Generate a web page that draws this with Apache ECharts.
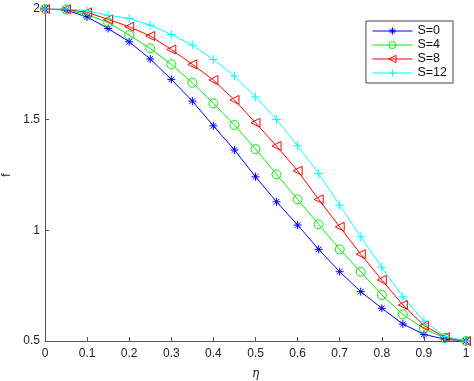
<!DOCTYPE html>
<html>
<head>
<meta charset="utf-8">
<script src="https://cdn.jsdelivr.net/npm/echarts@6/dist/echarts.min.js"></script>
<style>html,body{margin:0;padding:0;background:#fff}#c{width:474px;height:381px}</style>
</head>
<body>
<div id="c"></div>
<script>
const eta = [0,0.05,0.1,0.15,0.2,0.25,0.3,0.35,0.4,0.45,0.5,0.55,0.6,0.65,0.7,0.75,0.8,0.85,0.9,0.95,1];
const s0  = [2.0,1.995,1.964,1.912,1.852,1.774,1.682,1.584,1.472,1.363,1.242,1.129,1.024,0.914,0.813,0.723,0.648,0.577,0.530,0.508,0.5];
const s4  = [2.0,1.998,1.975,1.939,1.882,1.822,1.750,1.667,1.574,1.476,1.367,1.253,1.140,1.027,0.914,0.813,0.708,0.620,0.555,0.514,0.5];
const s8  = [2.0,1.999,1.985,1.953,1.920,1.878,1.817,1.750,1.679,1.589,1.486,1.381,1.269,1.140,1.016,0.892,0.776,0.663,0.570,0.517,0.5];
const s12 = [2.0,2.0,1.992,1.972,1.957,1.927,1.885,1.837,1.772,1.697,1.603,1.501,1.382,1.257,1.114,0.971,0.833,0.700,0.590,0.520,0.5];
const names = ['S=0','S=4','S=8','S=12'];
const xTicks = [0,0.1,0.2,0.3,0.4,0.5,0.6,0.7,0.8,0.9,1];
const yTicks = [0.5,1,1.5,2];

const pair = arr => eta.map((x,i)=>[x,arr[i]]);
const star = 'path://M0,5L10,5M5,0L5,10M1.5,1.5L8.5,8.5M1.5,8.5L8.5,1.5';
const plus = 'path://M0,5L10,5M5,0L5,10';
const tri  = 'path://M0,5L10,0L10,10Z';
function ser(name, data, color, symbol, size){
  return {
    name, type:'line', data: pair(data), symbol, symbolSize:size,
    lineStyle:{color, width:1}, itemStyle:{color:'transparent', borderColor:color, borderWidth:1},
    emphasis:{disabled:true}, animation:false
  };
}
const chart = echarts.init(document.getElementById('c'));
const font = 'Liberation Sans, Arial, sans-serif';
chart.setOption({
  animation:false,
  grid:{left:45,right:8,top:9,bottom:40, containLabel:false, outerBoundsMode:'none'},
  legend:{
    right:21, top:21, orient:'vertical', itemGap:0, itemWidth:40, itemHeight:9,
    borderColor:'#444', borderWidth:1, padding:[3,6,3,6], backgroundColor:'#fff',
    itemStyle:{color:'transparent', borderWidth:1},
    lineStyle:{width:1},
    textStyle:{fontFamily:font, fontSize:12.5, lineHeight:14, color:'#111', padding:[0,0,0,0]},
    data:names
  },
  xAxis:{
    type:'value', min:0, max:1, interval:0.1,
    name:'η', nameLocation:'middle', nameGap:27,
    nameTextStyle:{fontFamily:'DejaVu Serif, serif', fontStyle:'italic', fontSize:12, color:'#222'},
    axisLine:{lineStyle:{color:'#555', width:1}},
    axisTick:{inside:true, length:4, lineStyle:{color:'#555'}},
    axisLabel:{fontFamily:font, fontSize:12, color:'#222', margin:7,
      formatter:v=>xTicks.includes(Math.round(v*10)/10)?String(Math.round(v*10)/10):''},
    splitLine:{show:false}
  },
  yAxis:{
    type:'value', min:0.5, max:2, interval:0.5,
    name:'f', nameLocation:'middle', nameGap:30, nameRotate:90,
    nameTextStyle:{fontFamily:font, fontSize:12, color:'#222'},
    axisLine:{show:true, lineStyle:{color:'#555', width:1}},
    axisTick:{show:true, inside:true, length:4, lineStyle:{color:'#555'}},
    axisLabel:{fontFamily:font, fontSize:12, color:'#222', margin:5,
      formatter:v=>yTicks.includes(v)?String(v):''},
    splitLine:{show:false}
  },
  series:[
    ser(names[0], s0, '#0000ff', star, 8),
    ser(names[1], s4, '#00ee00', 'circle', 9),
    ser(names[2], s8, '#ff0000', tri, 9),
    ser(names[3], s12, '#00ffff', plus, 9)
  ]
});
</script>
</body>
</html>
